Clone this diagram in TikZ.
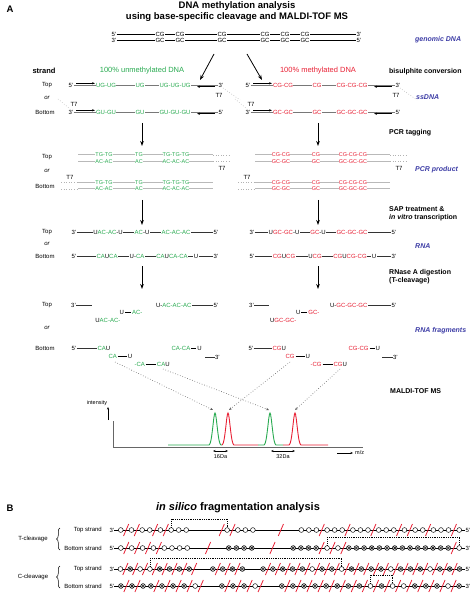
\documentclass[tikz,border=0pt]{standalone}
\usepackage{fontspec}
\setmainfont{Liberation Sans}
\usetikzlibrary{arrows.meta,decorations.pathreplacing}
\definecolor{gr}{RGB}{40,170,80}
\definecolor{rd}{RGB}{232,32,52}
\definecolor{bl}{RGB}{60,60,165}
\definecolor{ln}{RGB}{120,120,120}
\pgfdeclarelayer{bg}
\pgfsetlayers{bg,main}
\newcommand\G[1]{\textcolor{gr}{#1}}
\newcommand\R[1]{\textcolor{rd}{#1}}
\newcommand\seg[1]{\,\rule[1.75pt]{#1pt}{0.45pt}\,}
\tikzset{
  lab/.style={font=\fontsize{6}{7}\selectfont, inner sep=0pt},
  hdr/.style={font=\fontsize{7}{8.2}\selectfont\bfseries, inner sep=0pt, align=left, anchor=west},
  blab/.style={font=\fontsize{7}{8}\selectfont\bfseries\itshape, text=bl, inner sep=0pt, anchor=west},
  sq/.style={font=\fontsize{6}{7}\selectfont, inner sep=0.4pt, fill=white},
  sqg/.style={sq, text=gr},
  sqr/.style={sq, text=rd},
  pq/.style={font=\fontsize{5.5}{6}\selectfont, inner sep=0pt, fill=white},
  pqg/.style={pq, text=gr},
  pqr/.style={pq, text=rd},
  bigarr/.style={-{Stealth[length=5pt,width=3.6pt]}, line width=0.8pt},
  ssline/.style={ln, line width=0.8pt},
  pcrline/.style={gray!55, line width=1pt},
  dotl/.style={gray!60, line width=0.6pt, dotted},
  rnaline/.style={black!80, line width=0.5pt},
  primer/.style={-{Stealth[length=3pt,width=2.2pt]}, line width=0.5pt},
  dotarr/.style={gray!70!black, dotted, line width=0.6pt, -{Stealth[length=3pt,width=2.4pt]}},
  peakg/.style={gr, line width=0.9pt},
  peakr/.style={rd, line width=0.9pt},
  dimarr/.style={{Stealth[length=2.5pt,width=2pt]}-{Stealth[length=2.5pt,width=2pt]}, line width=0.5pt},
  cutbox/.style={line width=0.6pt, dash pattern=on 1pt off 0.8pt},
}
% ---------- panel B strand tokens ----------
\def\stepO{7.7}
\def\stepS{3}
\newcommand\adv[1]{\pgfmathsetmacro\tmpb{\bx+#1}\xdef\bx{\tmpb}}
\newcommand\bO{\pgfmathsetmacro\cx{\bx+\stepO/2}\draw[fill=white,line width=0.45pt] (\cx,\by) circle (2.4);\adv{\stepO}}
\newcommand\bOa{\pgfmathsetmacro\cx{\bx+\stepO/2}\xdef\xA{\cx}\draw[fill=white,line width=0.45pt] (\cx,\by) circle (2.4);\adv{\stepO}}
\newcommand\bOb{\pgfmathsetmacro\cx{\bx+\stepO/2}\xdef\xB{\cx}\draw[fill=white,line width=0.45pt] (\cx,\by) circle (2.4);\adv{\stepO}}
\newcommand\bX{\pgfmathsetmacro\cx{\bx+\stepO/2}\draw[fill=gray!35,line width=0.45pt] (\cx,\by) circle (2.4);\draw[line width=0.4pt] (\cx-1.7,\by-1.7) -- (\cx+1.7,\by+1.7) (\cx-1.7,\by+1.7) -- (\cx+1.7,\by-1.7);\adv{\stepO}}
\newcommand\bS{\pgfmathsetmacro\cx{\bx+\stepS/2}\draw[rd,line width=0.8pt] (\cx-2.6,\by+6) -- (\cx+2.6,\by-6);\adv{\stepS}}
\newcommand\bG{\adv{\stepO}}
\newcommand\cO{\pgfmathtruncatemacro\tmpc{\nO+1}\xdef\nO{\tmpc}}
\newcommand\cS{\pgfmathtruncatemacro\tmpc{\nS+1}\xdef\nS{\tmpc}}
\newcommand\bstrand[5]{\xdef\nO{0}\xdef\nS{0}%
  \begingroup\let\bO\cO\let\bOa\cO\let\bOb\cO\let\bX\cO\let\bG\cO\let\bS\cS
  \foreach \tok in {#3}{\tok}\endgroup
  \pgfmathsetmacro\stepOt{(463-#2)/(\nO+0.42*\nS)}\xdef\stepO{\stepOt}%
  \pgfmathsetmacro\stepSt{0.42*\stepO}\xdef\stepS{\stepSt}%
  \xdef\bx{#2}\def\by{#1}%
  \foreach \tok in {#3}{\tok}%
  \begin{pgfonlayer}{bg}\draw[line width=0.7pt] (#2-3,#1) -- (\bx+2,#1);\end{pgfonlayer}%
  \node[lab, anchor=east] at (#2-2.5,#1) {#4};%
  \node[lab, anchor=west] at (\bx+2.5,#1) {#5};}
\newcommand\bbox[1]{\draw[cutbox] (\xA,#1-2.4) -- (\xA,#1-11) -- (\xB,#1-11) -- (\xB,#1-2.4);}
% ---------- ssDNA block ----------
\newcommand\ssblock[8]{%
  \node[lab] (#8t5) at (71,85) {5’};
  \node[lab] (#8t3) at (221,85) {3’};
  \draw[ssline] (#8t5.east) -- (#8t3.west);
  \draw[primer] (76,83.3) -- (95,83.3);
  \draw[primer] (215,86.7) -- (197,86.7);
  \node[#1] (#8ta) at (106,85) {#2};
  \node[#1] (#8tb) at (140,85) {#3};
  \node[#1] (#8tc) at (175,85) {#4};
  \node[lab] (#8t7) at (219,95) {T7};
  \draw[dotl] (223,88) -- (240,100);
  \node[lab] (#8b3) at (71,112) {3’};
  \node[lab] (#8b5) at (221,112) {5’};
  \draw[ssline] (#8b3.east) -- (#8b5.west);
  \draw[primer] (76,110.3) -- (95,110.3);
  \draw[primer] (215,113.7) -- (197,113.7);
  \node[#1] (#8ba) at (106,112) {#5};
  \node[#1] (#8bb) at (140,112) {#6};
  \node[#1] (#8bc) at (175,112) {#7};
  \node[lab] (#8b7) at (74,104) {T7};
  \draw[dotl] (58,99) -- (70,109);
}
% ---------- PCR block ----------
\newcommand\pcrblock[8]{%
  \foreach \yy in {155,161.5,182.5,189}{\draw[pcrline] (78,\yy) -- (213,\yy);}
  \foreach \yy in {155,161.5}{\draw[dotl] (213,\yy) -- (231,\yy);}
  \foreach \yy in {182.5,189}{\draw[dotl] (61,\yy) -- (78,\yy);}
  \node[lab] (#8p7a) at (222,168) {T7};
  \node[lab] (#8p7b) at (70,177) {T7};
  \foreach \yy/\k in {155/a,182.5/b}{
    \node[#1] (#8u\k1) at (104,\yy) {#2};
    \node[#1] (#8u\k2) at (139,\yy) {#3};
    \node[#1] (#8u\k3) at (176,\yy) {#4};}
  \foreach \yy/\k in {161.5/a,189/b}{
    \node[#1] (#8l\k1) at (104,\yy) {#5};
    \node[#1] (#8l\k2) at (139,\yy) {#6};
    \node[#1] (#8l\k3) at (176,\yy) {#7};}
}
\begin{document}
\begin{tikzpicture}[x=1pt,y=-1pt]
\useasboundingbox (0,0) rectangle (474,593);
% ---------------- Panel A ----------------
\node[font=\fontsize{9.5}{11}\selectfont\bfseries, inner sep=0pt] (labA) at (10,9) {A};
\node[font=\fontsize{9.5}{11}\selectfont\bfseries, inner sep=0pt] (t1) at (237,6) {DNA methylation analysis};
\node[font=\fontsize{9.5}{11}\selectfont\bfseries, inner sep=0pt] (t2) at (237,17.5) {using base-specific cleavage and MALDI-TOF MS};
% genomic DNA
\node[lab] (g5t) at (114,34) {5’};
\node[lab] (g3t) at (359,34) {3’};
\node[lab] (g3b) at (114,40.5) {3’};
\node[lab] (g5b) at (359,40.5) {5’};
\draw[line width=0.6pt] (g5t.east) -- (g3t.west);
\draw[line width=0.6pt] (g3b.east) -- (g5b.west);
\foreach \x [count=\i] in {160,180,222,265,285,305}{
  \node[sq] (gc\i) at (\x,34) {CG};
  \node[sq] (gg\i) at (\x,40.5) {GC};}
\node[blab] (lgen) at (415,40) {genomic DNA};
\coordinate (ga1) at (214,54); \coordinate (ga2) at (200,80);
\coordinate (gb1) at (247,54); \coordinate (gb2) at (262,80);
\draw[bigarr] (ga1) -- (ga2);
\draw[bigarr] (gb1) -- (gb2);
\node[font=\fontsize{7.5}{9}\selectfont\bfseries, inner sep=0pt] (lstrand) at (44,71) {strand};
\node[font=\fontsize{7.5}{9}\selectfont, text=gr, inner sep=0pt] (lun) at (142,71) {100\% unmethylated DNA};
\node[font=\fontsize{7.5}{9}\selectfont, text=rd, inner sep=0pt] (lme) at (318,71) {100\% methylated DNA};
\node[hdr] (lbis) at (389,72) {bisulphite conversion};
% row labels
\foreach \yt/\yo/\yb/\k in {85/98/112/a,157/171/186/b,232/244/256/c,305/328/348/d}{
  \node[lab] (top\k) at (47,\yt) {Top};
  \node[lab, font=\fontsize{6}{7}\selectfont\itshape] (or\k) at (47,\yo) {or};
  \node[lab] (bot\k) at (45,\yb) {Bottom};}
% ssDNA
\ssblock{sqg}{UG-UG}{UG}{UG-UG-UG}{GU-GU}{GU}{GU-GU-GU}{L}
\begin{scope}[xshift=177pt]
\ssblock{sqr}{CG-CG}{CG}{CG-CG-CG}{GC-GC}{GC}{GC-GC-GC}{R}
\end{scope}
\node[blab] (lss) at (416,97) {ssDNA};
\node[hdr] (lpcr) at (389,133) {PCR tagging};
% arrows down
\foreach \x/\k in {142/l,318/r}{
  \foreach \ya/\yb/\j in {123/146/1,200/225/2,266/289/3}{
    \coordinate (d\k\j a) at (\x,\ya); \coordinate (d\k\j b) at (\x,\yb);
    \draw[bigarr] (d\k\j a) -- (d\k\j b);}}
% PCR products
\pcrblock{pqg}{TG-TG}{TG}{TG-TG-TG}{AC-AC}{AC}{AC-AC-AC}{L}
\begin{scope}[xshift=177pt]
\pcrblock{pqr}{CG-CG}{CG}{CG-CG-CG}{GC-GC}{GC}{GC-GC-GC}{R}
\end{scope}
\node[blab] (lpp) at (415,170) {PCR product};
\node[hdr, anchor=north west] (lsap) at (389,206) {SAP treatment \&\\\textit{in vitro} transcription};
% RNA
\node[lab] (rl3) at (74,232) {3’};
\node[lab] (rl5) at (216,232) {5’};
\draw[rnaline] (rl3.east) -- (rl5.west);
\node[sq] (rla) at (108,232) {U\G{AC-AC}-U};
\node[sq] (rlb) at (142,232) {\G{AC}-U};
\node[sq] (rlc) at (176,232) {\G{AC-AC-AC}};
\node[lab] (rl5b) at (74,256) {5’};
\node[lab] (rl3b) at (216,256) {3’};
\draw[rnaline] (rl5b.east) -- (rl3b.west);
\node[sq] (rld) at (107,256) {\G{CA}U\G{CA}};
\node[sq] (rle) at (137,256) {U-\G{CA}};
\node[sq] (rlf) at (172,256) {\G{CA}U\G{CA-CA}};
\node[sq] (rlg) at (196,256) {U};
\node[lab] (rr3) at (252,232) {3’};
\node[lab] (rr5) at (394,232) {5’};
\draw[rnaline] (rr3.east) -- (rr5.west);
\node[sq] (rra) at (284,232) {U\R{GC-GC}-U};
\node[sq] (rrb) at (318,232) {\R{GC}-U};
\node[sq] (rrc) at (352,232) {\R{GC-GC-GC}};
\node[lab] (rr5b) at (252,256) {5’};
\node[lab] (rr3b) at (394,256) {3’};
\draw[rnaline] (rr5b.east) -- (rr3b.west);
\node[sq] (rrd) at (284,256) {\R{CG}U\R{CG}};
\node[sq] (rre) at (315,256) {U\R{CG}};
\node[sq] (rrf) at (350,256) {\R{CG}U\R{CG-CG}};
\node[sq] (rrg) at (374,256) {U};
\node[blab] (lrna) at (415,246) {RNA};
\node[hdr, anchor=north west] (lrnase) at (389,269) {RNase A digestion\\(T-cleavage)};
% RNA fragments left
\node[lab, anchor=west] (fl3) at (71,305) {3’};
\coordinate (fl3e) at (92,305);
\draw[rnaline] (fl3.east) -- (fl3e);
\node[sq, anchor=east] (fla) at (192,305) {U-\G{AC-AC-AC}};
\node[lab] (fl5) at (216,305) {5’};
\draw[rnaline] (fla.east) -- (fl5.west);
\node[sq, anchor=east] (flb) at (143,312) {U\seg{6}\G{AC-}};
\node[sq, anchor=east] (flc) at (121,320) {U\G{AC-AC-}};
\node[lab] (fl5b) at (74,348) {5’};
\node[sq, anchor=west] (fld) at (97,348) {\G{CA}U};
\draw[rnaline] (fl5b.east) -- (fld.west);
\node[sq, anchor=west] (fle) at (108,356) {\G{CA}\seg{9}U};
\node[sq, anchor=west] (flf) at (134,364) {\G{-CA}\seg{10}\G{CA}U};
\node[sq, anchor=west] (flg) at (171,348) {\G{CA-CA}\seg{5}U};
\node[lab, anchor=east] (fl3b) at (220,357) {3’};
\coordinate (fl3bs) at (205,357);
\draw[rnaline] (fl3bs) -- (fl3b.west);
% RNA fragments right
\node[lab, anchor=west] (fr3) at (249,305) {3’};
\coordinate (fr3e) at (269,305);
\draw[rnaline] (fr3.east) -- (fr3e);
\node[sq, anchor=east] (fra) at (368,305) {U-\R{GC-GC-GC}};
\node[lab] (fr5) at (394,305) {5’};
\draw[rnaline] (fra.east) -- (fr5.west);
\node[sq, anchor=east] (frb) at (320,312) {U\seg{6}\R{GC-}};
\node[sq, anchor=east] (frc) at (297,320) {U\R{GC-GC-}};
\node[lab] (fr5b) at (251,348) {5’};
\node[sq, anchor=west] (frd) at (272,348) {\R{CG}U};
\draw[rnaline] (fr5b.east) -- (frd.west);
\node[sq, anchor=west] (fre) at (285,356) {\R{CG}\seg{9}U};
\node[sq, anchor=west] (frf) at (310,364) {\R{-CG}\seg{10}\R{CG}U};
\node[sq, anchor=west] (frg) at (348,348) {\R{CG-CG}\seg{5}U};
\node[lab, anchor=east] (fr3b) at (398,357) {3’};
\coordinate (fr3bs) at (382,357);
\draw[rnaline] (fr3bs) -- (fr3b.west);
\node[blab] (lfrag) at (415,331) {RNA fragments};
\node[hdr] (lmaldi) at (390,391) {MALDI-TOF MS};
% spectrum
\coordinate (ax0) at (113,421); \coordinate (ax1) at (113,447); \coordinate (ax2) at (363,447);
\draw[line width=0.5pt, gray!80!black] (ax0) -- (ax1) -- (ax2);
\node[lab, font=\fontsize{5.5}{6}\selectfont] (lint) at (97,403) {intensity};
\coordinate (ia) at (108,420); \coordinate (ib) at (108,407);
\draw[-{Stealth[length=2.5pt,width=2pt]}, line width=0.5pt] (ia) -- (ib);
\draw[peakg] (168,445) -- (209,445) .. controls (212,445) and (213.5,413) .. (215,413) .. controls (216.5,413) and (218,445) .. (221,445) -- (222,445);
\draw[peakr] (222,445) .. controls (225,445) and (226.5,413) .. (228,413) .. controls (229.5,413) and (231,445) .. (234,445) -- (258,445);
\draw[peakg] (258,445) -- (264,445) .. controls (267,445) and (268.5,413) .. (270,413) .. controls (271.5,413) and (273,445) .. (276,445) -- (283,445);
\draw[peakr] (283,445) -- (289,445) .. controls (292,445) and (293.5,413) .. (295,413) .. controls (296.5,413) and (298,445) .. (301,445) -- (328,445);
\coordinate (d16a) at (213,451); \coordinate (d16b) at (228,451);
\draw[dimarr] (d16a) -- (d16b);
\node[lab, font=\fontsize{5.5}{6}\selectfont] (l16) at (220.5,457) {16Da};
\coordinate (d32a) at (271,451); \coordinate (d32b) at (295,451);
\draw[dimarr] (d32a) -- (d32b);
\node[lab, font=\fontsize{5.5}{6}\selectfont] (l32) at (283,457) {32Da};
\coordinate (mza) at (337,453); \coordinate (mzb) at (353,453);
\draw[-{Stealth[length=2.5pt,width=2pt]}, line width=0.5pt] (mza) -- (mzb);
\node[lab, font=\fontsize{5.5}{6}\selectfont, anchor=west] (lmz) at (355,453) {m/z};
% dotted assignment arrows
\coordinate (pg1) at (213,410); \coordinate (pr1) at (229,410);
\coordinate (pg2) at (269,410); \coordinate (pr2) at (295,410);
\coordinate (sg1) at (115,362); \coordinate (sg2) at (163,369);
\coordinate (sr1) at (290,362); \coordinate (sr2) at (340,369);
\draw[dotarr] (sg1) -- (pg1);
\draw[dotarr] (sg2) -- (pg2);
\draw[dotarr] (sr1) -- (pr1);
\draw[dotarr] (sr2) -- (pr2);
% ---------------- Panel B ----------------
\node[font=\fontsize{9.5}{11}\selectfont\bfseries, inner sep=0pt] (labB) at (10,508) {B};
\node[font=\fontsize{11}{13}\selectfont\bfseries, inner sep=0pt] (tB) at (238,508) {\textit{in silico} fragmentation analysis};
\node[lab] (ltc) at (33,539) {T-cleavage};
\draw[decorate, decoration={brace, amplitude=3.5pt}, line width=0.5pt] (60,550) -- (60,528);
\node[lab] (lcc) at (33,577) {C-cleavage};
\draw[decorate, decoration={brace, amplitude=3.5pt}, line width=0.5pt] (60,588) -- (60,566);
\node[lab, anchor=east] (lts1) at (102,530) {Top strand};
\node[lab, anchor=east] (lbs1) at (102,548) {Bottom strand};
\node[lab, anchor=east] (lts2) at (102,569) {Top strand};
\node[lab, anchor=east] (lbs2) at (102,586) {Bottom strand};
\bstrand{530}{117}{\bO,\bS,\bO,\bS,\bO,\bO,\bS,\bO,\bS,\bOa,\bO,\bO,\bG,\bG,\bG,\bG,\bS,\bOb,\bS,\bO,\bO,\bO,\bG,\bG,\bG,\bS,\bG,\bG,\bO,\bO,\bO,\bS,\bO,\bO,\bO,\bS,\bO,\bO,\bO,\bS,\bO,\bO,\bO,\bS,\bO,\bS,\bO,\bO,\bS,\bO,\bO,\bO,\bS,\bO}{3’}{5’}
\bbox{530}
\bstrand{548}{117}{\bO,\bS,\bO,\bS,\bO,\bS,\bO,\bS,\bO,\bO,\bO,\bO,\bG,\bG,\bS,\bG,\bG,\bX,\bX,\bX,\bX,\bG,\bG,\bS,\bG,\bG,\bX,\bX,\bX,\bX,\bS,\bOa,\bS,\bO,\bS,\bX,\bX,\bX,\bX,\bX,\bX,\bX,\bX,\bX,\bX,\bX,\bX,\bX,\bX,\bS,\bOb}{5’}{3’}
\bbox{548}
\bstrand{569}{117}{\bO,\bS,\bX,\bS,\bO,\bS,\bOa,\bS,\bX,\bS,\bX,\bS,\bX,\bS,\bX,\bS,\bG,\bG,\bX,\bS,\bX,\bS,\bX,\bS,\bX,\bG,\bG,\bX,\bS,\bX,\bS,\bX,\bS,\bX,\bS,\bX,\bS,\bO,\bS,\bX,\bS,\bX,\bS,\bOb,\bS,\bX,\bS,\bX,\bS,\bX,\bS,\bX,\bS,\bO,\bS,\bX,\bS,\bX,\bS,\bX,\bS,\bO,\bS,\bX,\bS,\bX,\bS,\bX}{3’}{5’}
\bbox{569}
\bstrand{586}{117}{\bX,\bS,\bX,\bS,\bX,\bX,\bS,\bX,\bS,\bX,\bS,\bX,\bS,\bO,\bS,\bG,\bG,\bX,\bS,\bX,\bS,\bX,\bS,\bO,\bS,\bG,\bG,\bX,\bS,\bX,\bS,\bX,\bS,\bX,\bS,\bX,\bS,\bX,\bS,\bX,\bS,\bX,\bS,\bOa,\bS,\bX,\bS,\bOb,\bS,\bO,\bS,\bX,\bS,\bX,\bS,\bX,\bS,\bO,\bS,\bX}{5’}{3’}
\bbox{586}
\end{tikzpicture}
\end{document}
